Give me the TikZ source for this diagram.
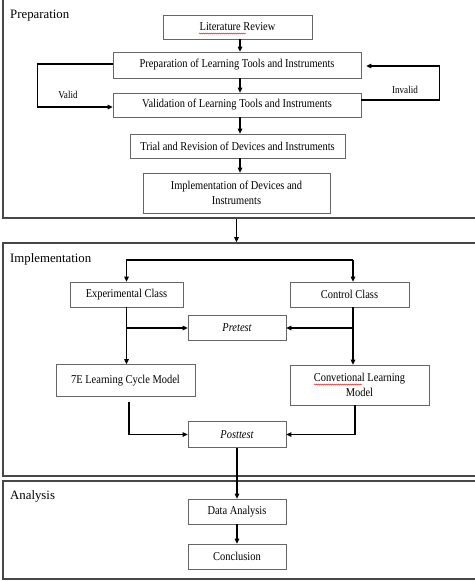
\documentclass[tikz,border=0pt]{standalone}
\usepackage{fontspec}
\setmainfont{Liberation Serif}
\newfontfamily\cfont{Liberation Serif}[FakeStretch=0.87]
\usetikzlibrary{arrows.meta,calc,decorations.pathmorphing}
\begin{document}
\begin{tikzpicture}[x=1pt,y=-1pt,
  box/.style={draw=black!60,line width=0.7pt,fill=white,inner sep=1pt,align=center,font=\cfont\fontsize{12}{15}\selectfont},
  arr/.style={-{Triangle[length=5pt,width=4.5pt]},line width=1.1pt,black},
  ln/.style={line width=1.1pt,black},
  frm/.style={draw=black!72,line width=1.6pt,rectangle,inner sep=0pt},
  lbl/.style={font=\fontsize{12.8}{14}\selectfont,anchor=base west,inner sep=0pt},
  sml/.style={font=\cfont\fontsize{10.5}{11}\selectfont,inner sep=0pt},
  squig/.style={draw=red!85!black,line width=0.45pt,decorate,decoration={snake,amplitude=0.55pt,segment length=2pt}}]
\useasboundingbox (0,0) rectangle (474,581);
% frames
\node[frm,minimum width=477pt,minimum height=221pt] (prepF) at (241.5,107.5) {};
\node[frm,minimum width=477pt,minimum height=233pt] (implF) at (241.5,359.5) {};
\node[frm,minimum width=477pt,minimum height=98pt] (anaF) at (241.5,530) {};
% section labels
\node[lbl] (lp) at (10,18.5) {Preparation};
\node[lbl] (li) at (10,262.5) {Implementation};
\node[lbl] (la) at (10,499) {Analysis};
% preparation boxes
\node[box,minimum width=149pt,minimum height=24pt] (lit) at (237.5,27) {Literature Review};
\node[box,minimum width=248pt,minimum height=26pt] (prep) at (237,65) {Preparation of Learning Tools and Instruments};
\node[box,minimum width=248pt,minimum height=24pt] (val) at (237,105) {Validation of Learning Tools and Instruments};
\node[box,minimum width=215pt,minimum height=24pt] (trial) at (237.5,146) {Trial and Revision of Devices and Instruments};
\node[box,minimum width=187pt,minimum height=40pt] (impl) at (236.5,193) {Implementation of Devices and\\Instruments};
% implementation boxes
\node[box,minimum width=113pt,minimum height=25pt] (exp) at (126.5,294.5) {Experimental Class};
\node[box,minimum width=119pt,minimum height=25pt] (ctrl) at (349.5,294.5) {Control Class};
\node[box,minimum width=98pt,minimum height=25pt] (pre) at (237,328) {\itshape Pretest};
\node[box,minimum width=139pt,minimum height=32pt] (sev) at (125.5,380.5) {7E Learning Cycle Model};
\node[box,minimum width=139pt,minimum height=40pt] (conv) at (359.5,385) {Convetional Learning\\Model};
\node[box,minimum width=98pt,minimum height=26pt] (post) at (237,434.5) {\itshape Posttest};
% analysis boxes
\node[box,minimum width=98pt,minimum height=25pt] (data) at (237,511.5) {Data Analysis};
\node[box,minimum width=98pt,minimum height=25pt] (concl) at (237,556.5) {Conclusion};
% spell-check squiggles
\draw[squig] ($(lit.center)+(-38.5,6.5)$) -- ($(lit.center)+(8.5,6.5)$);
\draw[squig] ($(conv.center)+(-45.5,-0.5)$) -- ($(conv.center)+(2.5,-0.5)$);
% preparation connectors
\coordinate (pc) at (240,0);
\draw[arr] (pc |- lit.south) -- (pc |- prep.north);
\draw[arr] (pc |- prep.south) -- (pc |- val.north);
\draw[arr] (pc |- val.south) -- (pc |- trial.north);
\draw[arr] (pc |- trial.south) -- (pc |- impl.north);
\draw[arr] ([yshift=1pt]prep.west) -- ++(-75,0) |- ([yshift=-2pt]val.west);
\node[sml] (vl) at (68,95) {Valid};
\draw[arr,shorten >=5pt] ([yshift=5pt]val.east) -- ++(78,0) |- ([yshift=-1pt]prep.east);
\node[sml] (il) at (405,90) {Invalid};
\draw[arr] (impl.south |- prepF.south) -- (impl.south |- implF.north);
% implementation connectors
\coordinate (tp) at (240,260);
\coordinate (rc) at (353,328);
\draw[arr] (rc |- tp) -- (exp.north |- tp) -- (exp.north);
\draw[arr] (rc |- tp) -- (rc |- ctrl.north);
\draw[arr] (exp.south) -- (exp.south |- sev.north);
\draw[arr] (rc |- ctrl.south) -- (rc |- conv.north);
\draw[arr] (exp.south |- pre.west) -- (pre.west);
\draw[arr] (rc |- pre.east) -- (pre.east);
\draw[arr,shorten <=5pt] ([xshift=3.5pt]sev.south) |- (post.west);
\draw[arr] ([xshift=-4.5pt]conv.south) |- (post.east);
% analysis connectors
\draw[arr] (post.south) -- (data.north);
\draw[arr] (data.south) -- (concl.north);
\end{tikzpicture}
\end{document}
